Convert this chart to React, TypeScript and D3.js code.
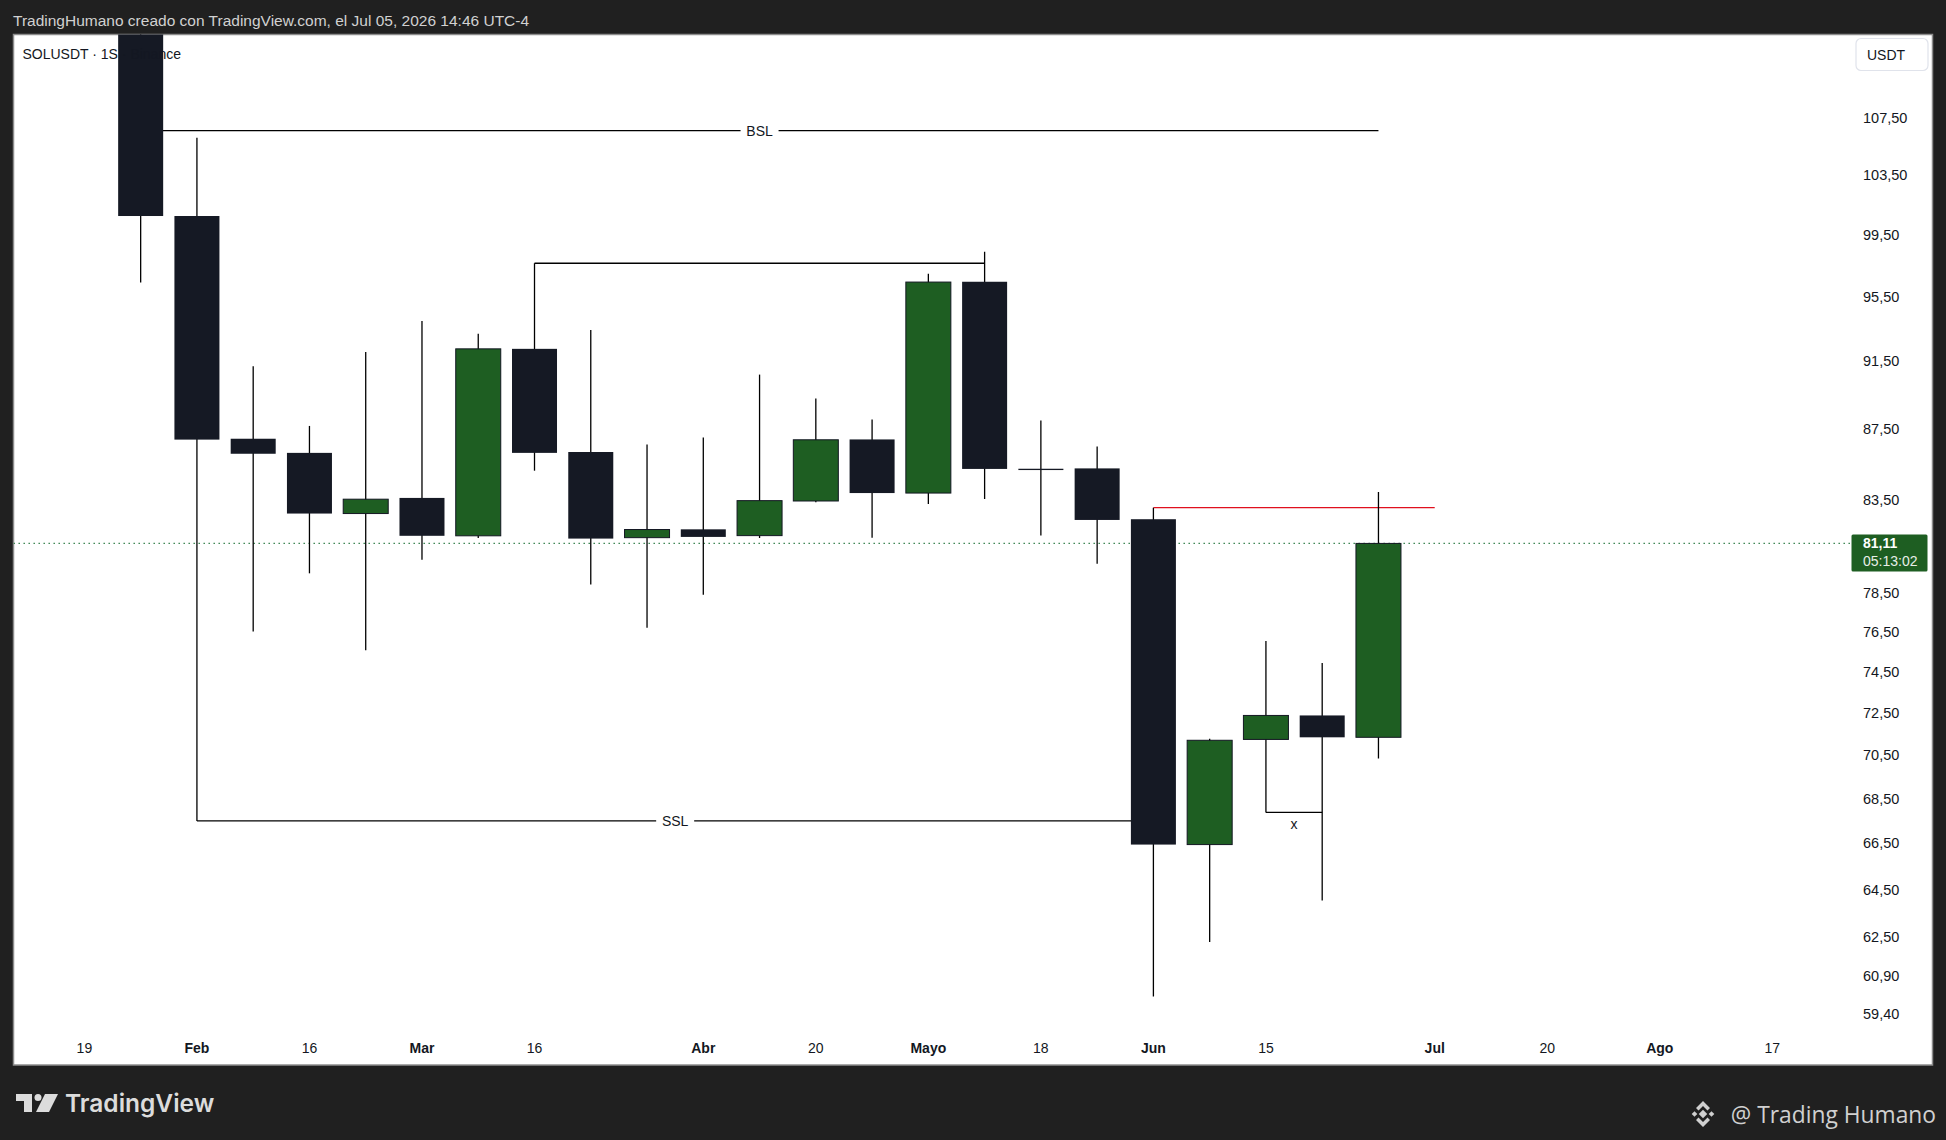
import React from "react";
import * as d3 from "d3";

// weekly SOLUSDT candles (Binance, 1S)
const weeks = [
  "2026-01-26", "2026-02-02", "2026-02-09", "2026-02-16", "2026-02-23", "2026-03-02",
  "2026-03-09", "2026-03-16", "2026-03-23", "2026-03-30", "2026-04-06", "2026-04-13",
  "2026-04-20", "2026-04-27", "2026-05-04", "2026-05-11", "2026-05-18", "2026-05-25",
  "2026-06-01", "2026-06-08", "2026-06-15", "2026-06-22", "2026-06-29",
];
const opens = [
  117.0, 100.74, 86.93, 86.12, 82.73, 83.59, 81.52, 92.26, 86.17, 81.42, 81.87, 81.53,
  83.42, 86.89, 83.86, 96.45, 85.22, 85.24, 82.42, 66.45, 71.24, 72.38, 71.34,
];
const highs = [
  119.0, 106.09, 91.21, 87.67, 92.06, 93.98, 93.18, 97.64, 93.42, 86.6, 87.0, 90.7,
  89.28, 88.04, 96.96, 98.38, 87.99, 86.49, 83.05, 71.27, 76.04, 74.94, 83.92,
];
const lows = [
  96.4, 67.5, 76.51, 79.52, 75.57, 80.24, 81.4, 85.11, 78.94, 76.71, 78.4, 81.4,
  83.35, 81.41, 83.26, 83.53, 81.53, 80.03, 60.09, 62.3, 67.88, 64.04, 70.35,
];
const closes = [
  100.74, 86.88, 86.07, 82.73, 83.52, 81.52, 92.26, 86.12, 81.37, 81.86, 81.46, 83.44,
  86.87, 83.86, 96.43, 85.21, 85.2, 82.38, 66.45, 71.2, 72.38, 71.34, 81.11,
];

const priceTicks = [
  107.5, 103.5, 99.5, 95.5, 91.5, 87.5, 83.5, 78.5, 76.5, 74.5, 72.5, 70.5, 68.5, 66.5,
  64.5, 62.5, 60.9, 59.4,
];
const timeTickDates = [
  "2026-01-19", "2026-02-02", "2026-02-16", "2026-03-02", "2026-03-16", "2026-04-06",
  "2026-04-20", "2026-05-04", "2026-05-18", "2026-06-01", "2026-06-15", "2026-07-06",
  "2026-07-20", "2026-08-03", "2026-08-17",
];
const timeTickLabels = [
  "19", "Feb", "16", "Mar", "16", "Abr", "20", "Mayo", "18", "Jun", "15", "Jul", "20", "Ago", "17",
];

const lastPrice = 81.11;
const countdown = "05:13:02";

// drawn levels
const levelNames = ["BSL", "SSL", "high", "rango", "x"];
const levelPrices = [106.6, 67.5, 97.64, 83.05, 67.88];
const levelStarts = ["2026-01-26", "2026-02-02", "2026-03-16", "2026-06-01", "2026-06-15"];
const levelEnds = ["2026-06-29", "2026-06-01", "2026-05-11", "2026-07-06", "2026-06-22"];

const W = 1946;
const H = 1140;
const panel = { left: 13.5, top: 34.5, right: 1932.5, bottom: 1065 };
const plotRight = 1850;
const plotBottom = 1030;

const BG = "#202020";
const BULL = "#1e5e22";
const BEAR = "#151924";
const INK = "#131722";
const FONT = "'Liberation Sans', Arial, sans-serif";

const parse = d3.utcParse("%Y-%m-%d");

export default function App() {
  const x = d3
    .scaleUtc()
    .domain([parse("2026-01-19")!, parse("2026-08-17")!])
    .range([84.4, 1772.3]);
  const y = d3.scaleLog().domain([59.4, 107.5]).range([1014, 117.9]);

  const step = x(parse("2026-01-26")!) - x(parse("2026-01-19")!);
  const bodyW = step * 0.8;
  const fmt = (v: number) => v.toFixed(2).replace(".", ",");

  const candles = weeks.map((w, i) => ({
    x: x(parse(w)!),
    o: opens[i],
    h: highs[i],
    l: lows[i],
    c: closes[i],
  }));

  const levels = levelNames.map((name, i) => ({
    name,
    y: y(levelPrices[i]),
    x1: x(parse(levelStarts[i])!),
    x2: x(parse(levelEnds[i])!),
  }));

  const yLast = y(lastPrice);

  return (
    <>
      <style>{"body{margin:0;background:" + BG + "}"}</style>
      <svg width={W} height={H} style={{ display: "block" }} fontFamily={FONT}>
        <defs>
          <clipPath id="plot">
            <rect x={panel.left} y={panel.top} width={plotRight - panel.left} height={plotBottom - panel.top} />
          </clipPath>
        </defs>
        <rect width={W} height={H} fill={BG} />

        {/* header */}
        <text x={13} y={20.5} fontSize={15.5} fill="#d1d1d1" dominantBaseline="central">
          TradingHumano creado con TradingView.com, el Jul 05, 2026 14:46 UTC-4
        </text>

        {/* chart panel */}
        <rect
          x={panel.left}
          y={panel.top}
          width={panel.right - panel.left}
          height={panel.bottom - panel.top}
          fill="#fff"
          stroke="#8c8c8c"
          strokeWidth={1.5}
        />

        <g clipPath="url(#plot)">
          {/* last price line */}
          <line
            x1={panel.left}
            x2={1851}
            y1={yLast}
            y2={yLast}
            stroke="#2e7d46"
            strokeWidth={1.3}
            strokeDasharray="1.4 3.6"
          />

          {/* drawings */}
          {levels.map((lv) => {
            const red = lv.name === "rango";
            const labelled = lv.name === "BSL" || lv.name === "SSL";
            const mid = (lv.x1 + lv.x2) / 2;
            return (
              <g key={lv.name}>
                <line
                  x1={lv.x1}
                  x2={lv.x2}
                  y1={lv.y}
                  y2={lv.y}
                  stroke={red ? "#e0101e" : "#000"}
                  strokeWidth={1.3}
                />
                {labelled && (
                  <>
                    <rect x={mid - 19} y={lv.y - 8} width={38} height={16} fill="#fff" />
                    <text x={mid} y={lv.y} fontSize={14} fill={INK} textAnchor="middle" dominantBaseline="central">
                      {lv.name}
                    </text>
                  </>
                )}
                {lv.name === "x" && (
                  <text x={mid} y={lv.y + 12} fontSize={14} fill={INK} textAnchor="middle" dominantBaseline="central">
                    x
                  </text>
                )}
              </g>
            );
          })}

          {/* candles */}
          {candles.map((d, i) => {
            const up = d.c > d.o;
            const top = y(Math.max(d.o, d.c));
            const bot = y(Math.min(d.o, d.c));
            return (
              <g key={i}>
                <line x1={d.x} x2={d.x} y1={y(d.h)} y2={y(d.l)} stroke="#000" strokeWidth={1.3} />
                <rect
                  x={d.x - bodyW / 2}
                  y={top}
                  width={bodyW}
                  height={Math.max(1.3, bot - top)}
                  fill={up ? BULL : BEAR}
                  stroke={up ? INK : "none"}
                  strokeWidth={1}
                />
              </g>
            );
          })}
        </g>

        {/* legend */}
        <text x={22.5} y={54} fontSize={14} fill={INK} dominantBaseline="central">
          SOLUSDT · 1S · Binance
        </text>

        {/* price scale */}
        <rect x={1856} y={38.5} width={72} height={32} rx={5} fill="#fff" stroke="#e0e3eb" strokeWidth={1.2} />
        <text x={1867} y={55} fontSize={14} fill={INK} dominantBaseline="central">
          USDT
        </text>
        {priceTicks.map((v) => (
          <text key={v} x={1863} y={y(v)} fontSize={14.5} fill={INK} dominantBaseline="central">
            {fmt(v)}
          </text>
        ))}
        <rect x={1851.5} y={yLast - 9} width={76} height={37} rx={1.5} fill={BULL} />
        <text x={1863} y={yLast} fontSize={14} fontWeight={600} fill="#fff" dominantBaseline="central">
          {fmt(lastPrice)}
        </text>
        <text x={1863} y={yLast + 17.5} fontSize={14} fill="#e8eee8" dominantBaseline="central">
          {countdown}
        </text>

        {/* time scale */}
        {timeTickDates.map((t, i) => {
          const label = timeTickLabels[i];
          const isMonth = /[A-Za-z]/.test(label);
          return (
            <text
              key={t}
              x={x(parse(t)!)}
              y={1048}
              fontSize={14}
              fontWeight={isMonth ? 700 : 400}
              fill={INK}
              textAnchor="middle"
              dominantBaseline="central"
            >
              {label}
            </text>
          );
        })}

        {/* footer: TradingView logo */}
        <g transform="translate(16,1094)" fill="#dcdcdc">
          <path d="M0 0H16V18H8V7H0Z" />
          <circle cx={22} cy={3.5} r={3.5} />
          <path d="M29 0H42L33 18H20Z" />
        </g>
        <text x={65} y={1112} fontSize={24.5} fontWeight={600} fill="#dcdcdc" fontFamily="Inter, sans-serif">
          TradingView
        </text>

        {/* footer: author */}
        <g transform="translate(1703,1114)" fill="#d0d0d0">
          <rect x={-3} y={-3} width={6} height={6} transform="rotate(45)" />
          <rect x={-10.5} y={-2} width={4} height={4} transform="rotate(45 -8.5 0)" />
          <rect x={6.5} y={-2} width={4} height={4} transform="rotate(45 8.5 0)" />
          <path d="M0 -13L7 -6L4.5 -3.5L0 -8L-4.5 -3.5L-7 -6Z M0 13L7 6L4.5 3.5L0 8L-4.5 3.5L-7 6Z" />
        </g>
        <text x={1936} y={1123} fontSize={22.8} fill="#d0d0d0" textAnchor="end" fontFamily="'Open Sans', sans-serif">
          @ Trading Humano
        </text>
      </svg>
    </>
  );
}
